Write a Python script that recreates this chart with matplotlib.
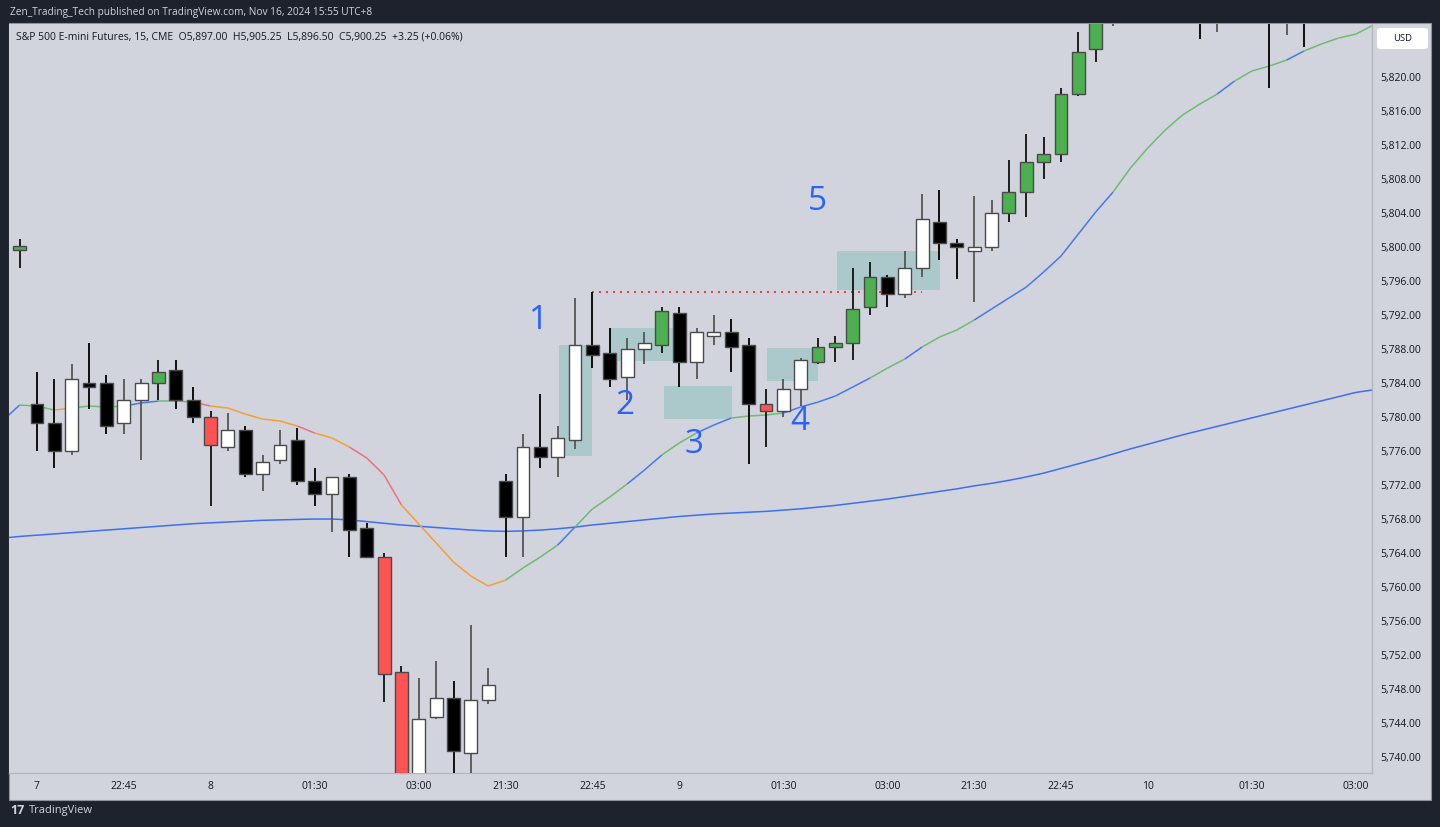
import matplotlib
matplotlib.use("Agg")
import matplotlib.pyplot as plt
from matplotlib.collections import LineCollection
from matplotlib.patches import Rectangle, FancyBboxPatch
import numpy as np

plt.rcParams['font.family'] = ['Open Sans', 'DejaVu Sans']

# ---------------- data ----------------
bar_index = list(range(-1, 77))
opens = [5799.75, 5781.5, 5779.25, 5776.0, 5784.0, 5784.0, 5779.25, 5782.0, 5784.0, 5785.5,
         5782.0, 5780.0, 5776.5, 5778.5, 5773.25, 5775.0, 5777.25, 5772.5, 5771.0, 5773.0,
         5767.0, 5763.5, 5750.0, 5736.5, 5744.75, 5747.0, 5740.5, 5746.75, 5772.5, 5768.25,
         5776.5, 5775.25, 5777.25, 5788.5, 5787.5, 5784.75, 5788.0, 5788.5, 5792.25, 5786.5,
         5789.5, 5790.0, 5788.5, 5781.5, 5780.75, 5783.25, 5786.5, 5788.25, 5788.75, 5793.0,
         5796.5, 5794.5, 5797.5, 5803.0, 5800.5, 5799.5, 5800.0, 5804.0, 5806.5, 5810.0,
         5811.0, 5818.0, 5823.25, 5829.75, 5831.0, 5833.0, 5834.25, 5832.0, 5830.5, 5829.0,
         5830.25, 5832.0, 5831.0, 5830.0, 5833.0, 5831.5, 5835.0, 5834.0]
highs = [5801.0, 5785.25, 5784.5, 5786.25, 5788.75, 5785.0, 5784.5, 5784.5, 5786.75, 5786.75,
         5783.5, 5780.75, 5780.5, 5779.0, 5775.5, 5778.5, 5778.75, 5774.0, 5773.0, 5773.25,
         5767.5, 5764.0, 5750.75, 5749.25, 5751.25, 5749.0, 5755.5, 5750.5, 5773.25, 5778.0,
         5782.75, 5779.0, 5794.0, 5794.75, 5790.5, 5789.25, 5790.0, 5793.0, 5793.0, 5790.5,
         5792.0, 5791.5, 5789.25, 5783.25, 5784.5, 5787.0, 5789.25, 5789.5, 5797.5, 5798.25,
         5796.75, 5799.5, 5806.25, 5806.75, 5801.0, 5806.0, 5805.5, 5810.25, 5813.25, 5813.0,
         5818.75, 5825.25, 5830.5, 5832.0, 5834.0, 5835.5, 5836.0, 5834.0, 5832.5, 5831.0,
         5833.0, 5834.0, 5833.5, 5834.0, 5834.5, 5836.0, 5837.0, 5836.0]
lows = [5797.5, 5776.0, 5774.0, 5775.5, 5781.0, 5778.0, 5778.0, 5775.0, 5782.0, 5781.0,
        5779.25, 5769.5, 5776.0, 5773.0, 5771.25, 5774.5, 5772.0, 5769.5, 5766.5, 5763.5,
        5763.5, 5746.5, 5734.0, 5734.5, 5744.5, 5737.0, 5737.0, 5746.25, 5763.5, 5763.5,
        5774.0, 5773.0, 5776.25, 5785.75, 5783.5, 5782.0, 5786.25, 5787.5, 5783.5, 5784.5,
        5788.5, 5785.25, 5774.5, 5776.5, 5780.0, 5781.25, 5786.25, 5786.5, 5786.75, 5792.0,
        5793.0, 5794.0, 5796.5, 5798.5, 5796.25, 5793.5, 5799.5, 5803.0, 5803.5, 5808.0,
        5810.0, 5817.75, 5821.75, 5826.0, 5828.5, 5830.0, 5831.0, 5829.0, 5824.5, 5825.25,
        5828.0, 5829.0, 5818.75, 5825.0, 5823.5, 5829.0, 5832.0, 5826.25]
closes = [5800.0, 5779.25, 5776.0, 5784.5, 5783.5, 5779.0, 5782.0, 5784.0, 5785.25, 5782.0,
          5780.0, 5776.75, 5778.5, 5773.25, 5774.75, 5776.75, 5772.5, 5771.0, 5773.0, 5766.75,
          5763.5, 5749.75, 5736.5, 5744.5, 5747.0, 5740.75, 5746.75, 5748.5, 5768.25, 5776.5,
          5775.25, 5777.5, 5788.5, 5787.25, 5784.5, 5788.0, 5788.75, 5792.5, 5786.5, 5790.0,
          5790.0, 5788.25, 5781.5, 5780.75, 5783.25, 5786.75, 5788.25, 5788.75, 5792.75, 5796.5,
          5794.5, 5797.5, 5803.25, 5800.5, 5800.0, 5800.0, 5804.0, 5806.5, 5810.0, 5811.0,
          5818.0, 5823.0, 5829.75, 5831.0, 5833.0, 5834.25, 5832.0, 5830.5, 5829.0, 5830.25,
          5832.0, 5831.0, 5830.0, 5833.0, 5831.5, 5835.0, 5834.0, 5835.5]
candle_kind = ['g', 'k', 'k', 'w', 'k', 'k', 'w', 'w', 'g', 'k',
               'k', 'r', 'w', 'k', 'w', 'w', 'k', 'k', 'w', 'k',
               'k', 'r', 'r', 'w', 'w', 'k', 'w', 'w', 'k', 'w',
               'k', 'w', 'w', 'k', 'k', 'w', 'w', 'g', 'k', 'w',
               'w', 'k', 'k', 'r', 'w', 'w', 'g', 'g', 'g', 'g',
               'k', 'w', 'w', 'k', 'k', 'w', 'w', 'g', 'g', 'g',
               'g', 'g', 'g', 'w', 'w', 'w', 'k', 'k', 'k', 'w',
               'w', 'k', 'k', 'w', 'k', 'w', 'k', 'w']

ma_index = list(range(-2, 78))
fast_ma = [5779.53, 5781.41, 5781.29, 5780.82, 5781.06, 5781.29, 5781.18, 5781.29, 5781.65, 5781.88,
           5781.88, 5781.76, 5781.29, 5781.06, 5780.35, 5779.76, 5779.53, 5778.94, 5778.12, 5777.53,
           5776.47, 5775.18, 5773.18, 5769.65, 5767.41, 5765.18, 5762.94, 5761.29, 5760.12, 5760.82,
           5762.24, 5763.53, 5764.94, 5767.06, 5769.18, 5770.59, 5772.12, 5773.76, 5775.53, 5776.94,
           5778.12, 5779.06, 5779.88, 5780.12, 5780.24, 5780.47, 5781.18, 5781.76, 5782.47, 5783.53,
           5784.59, 5785.76, 5786.82, 5788.24, 5789.41, 5790.24, 5791.41, 5792.71, 5794.0, 5795.29,
           5797.06, 5798.94, 5801.53, 5804.12, 5806.47, 5809.29, 5811.65, 5813.76, 5815.53, 5816.82,
           5818.0, 5819.53, 5820.71, 5821.29, 5822.0, 5823.06, 5823.88, 5824.59, 5825.06, 5826.12]
# colour of the segment that ends at each bar from -1 to 77
fast_seg_kind = ['b', 'g', 'g', 'o', 'g', 'g', 'g', 'b', 'b', 'g',
                 'g', 'r', 'o', 'o', 'o', 'o', 'o', 'r', 'o', 'o',
                 'r', 'r', 'r', 'o', 'o', 'o', 'o', 'o', 'o', 'g',
                 'g', 'g', 'b', 'g', 'g', 'g', 'b', 'b', 'g', 'g',
                 'b', 'b', 'g', 'g', 'g', 'b', 'b', 'b', 'b', 'b',
                 'g', 'g', 'b', 'g', 'g', 'g', 'b', 'b', 'b', 'b',
                 'b', 'b', 'b', 'b', 'g', 'g', 'g', 'g', 'g', 'g',
                 'b', 'g', 'g', 'g', 'b', 'g', 'g', 'g', 'g']
slow_ma = [5765.75, 5765.95, 5766.10, 5766.25, 5766.40, 5766.55, 5766.70, 5766.85, 5767.00, 5767.15,
           5767.30, 5767.45, 5767.55, 5767.65, 5767.75, 5767.85, 5767.90, 5767.95, 5768.00, 5768.00,
           5767.90, 5767.70, 5767.50, 5767.30, 5767.15, 5767.00, 5766.85, 5766.70, 5766.60, 5766.55,
           5766.60, 5766.70, 5766.85, 5767.05, 5767.30, 5767.50, 5767.70, 5767.90, 5768.10, 5768.30,
           5768.45, 5768.60, 5768.70, 5768.80, 5768.90, 5769.05, 5769.20, 5769.40, 5769.60, 5769.85,
           5770.10, 5770.35, 5770.65, 5770.95, 5771.25, 5771.55, 5771.90, 5772.20, 5772.55, 5772.95,
           5773.40, 5773.95, 5774.50, 5775.05, 5775.65, 5776.25, 5776.80, 5777.35, 5777.90, 5778.40,
           5778.90, 5779.40, 5779.90, 5780.40, 5780.90, 5781.40, 5781.90, 5782.40, 5782.90, 5783.20]

# zones: (start bar, end bar, low price, high price)
zones = [(30.1, 32.0, 5775.4, 5788.5),
         (33.0, 36.65, 5786.6, 5790.5),
         (36.1, 40.05, 5779.75, 5783.6),
         (42.05, 45.0, 5784.25, 5788.1),
         (46.1, 52.03, 5794.9, 5799.5)]
labels_num = ['1', '2', '3', '4', '5']
labels_bar = [28.87, 33.88, 37.86, 43.96, 44.94]
labels_price = [5791.4, 5781.3, 5776.8, 5779.5, 5805.3]
level_price = 5794.75
level_start, level_end = 32, 51

price_ticks = list(range(5740, 5821, 4))
time_tick_bars = [0, 5, 10, 16, 22, 27, 32, 37, 43, 49, 54, 59, 64, 70, 76]
time_tick_labels = ['7', '22:45', '8', '01:30', '03:00', '21:30', '22:45', '9',
                    '01:30', '03:00', '21:30', '22:45', '10', '01:30', '03:00']

header = "Zen_Trading_Tech published on TradingView.com, Nov 16, 2024 15:55 UTC+8"
legend = "S&P 500 E-mini Futures, 15, CME  O5,897.00  H5,905.25  L5,896.50  C5,900.25  +3.25 (+0.06%)"

# ---------------- figure ----------------
W, H = 1440, 827
def fx(px): return px / W
def fy(py): return 1 - py / H

BG = '#d1d4dc'
fig = plt.figure(figsize=(W / 100, H / 100), dpi=100, facecolor='#1e222d')

panel = Rectangle((fx(9), fy(800)), fx(1431) - fx(9), fy(23) - fy(800),
                  transform=fig.transFigure, facecolor=BG, edgecolor='#8f929b',
                  linewidth=0.8, zorder=0)
fig.add_artist(panel)

ax = fig.add_axes([fx(9), fy(773), fx(1372) - fx(9), fy(24) - fy(773)])
ax.set_facecolor(BG)
ax.set_xlim(-1.613, 76.92)
ax.set_ylim(5738.12, 5826.24)
for s in ['top', 'left']:
    ax.spines[s].set_visible(False)
for s in ['right', 'bottom']:
    ax.spines[s].set_color('#b4b7bf')
    ax.spines[s].set_linewidth(1.0)

ax.yaxis.tick_right()
ax.set_yticks(price_ticks)
ax.set_yticklabels([f"{v:,.2f}" for v in price_ticks])
ax.tick_params(axis='y', length=0, pad=6, labelsize=7.5, labelcolor='#131722')
ax.set_xticks(time_tick_bars)
ax.set_xticklabels(time_tick_labels)
ax.tick_params(axis='x', length=0, pad=6, labelsize=7.5, labelcolor='#131722')

# zones
for (x0, x1, lo, hi) in zones:
    ax.add_patch(Rectangle((x0, lo), x1 - x0, hi - lo, facecolor='#abc9cb',
                           edgecolor='none', zorder=1))

# slow MA
ax.plot(ma_index, slow_ma, color='#3d6ff2', lw=1.1, zorder=2, solid_capstyle='round')

# fast MA colour-coded
seg_colors = {'g': '#6fbb72', 'b': '#4677f5', 'o': '#f4a02e', 'r': '#ef6f7c'}
pts = np.column_stack([ma_index, fast_ma])
segs = np.stack([pts[:-1], pts[1:]], axis=1)
lc = LineCollection(segs, colors=[seg_colors[k] for k in fast_seg_kind],
                    linewidths=1.1, zorder=2)
ax.add_collection(lc)

# level line
ax.plot([level_start, level_end], [level_price, level_price], color='#f23645',
        lw=1.4, linestyle=(0, (1, 2.6)), zorder=2.5)

# candles
body_fc = {'k': '#000000', 'w': '#ffffff', 'g': '#4caf50', 'r': '#ff5252'}
wick_c = {'k': '#000000', 'w': '#555555', 'g': '#111111', 'r': '#111111'}
o = np.array(opens); c = np.array(closes)
bottoms = np.minimum(o, c)
heights = np.abs(c - o)
mid = (o + c) / 2
minh = 0.4
bottoms = np.where(heights < minh, mid - minh / 2, bottoms)
heights = np.maximum(heights, minh)
ax.vlines(bar_index, lows, highs, colors=[wick_c[k] for k in candle_kind],
          linewidth=1.3, zorder=2.9)
ax.bar(bar_index, heights, bottom=bottoms, width=0.74,
       color=[body_fc[k] for k in candle_kind], edgecolor='#4a4a4a',
       linewidth=1.0, zorder=3)

# number labels
for t, xb, yp in zip(labels_num, labels_bar, labels_price):
    ax.text(xb, yp, t, color='#2962ff', fontsize=24, ha='center', va='center', zorder=6)

# texts
fig.text(fx(10), fy(13), header, color='#d1d4dc', fontsize=7.3, va='center')
fig.text(fx(16), fy(37), legend, color='#131722', fontsize=7.5, va='center')

usd = FancyBboxPatch((fx(1377), fy(49)), fx(1428) - fx(1377), (49 - 28) / H,
                     boxstyle='round,pad=0,rounding_size=0.003',
                     transform=fig.transFigure, facecolor='#ffffff',
                     edgecolor='none', zorder=5)
fig.add_artist(usd)
fig.text(fx(1393), fy(38.5), 'USD', color='#131722', fontsize=6.8, va='center',
         ha='left', zorder=6)

fig.text(fx(10), fy(811), '17', color='#d1d4dc', fontsize=9, fontweight='bold',
         va='center')
fig.text(fx(29), fy(811), 'TradingView', color='#d1d4dc', fontsize=8, va='center')

fig.savefig('out.png', dpi=100, facecolor=fig.get_facecolor())
